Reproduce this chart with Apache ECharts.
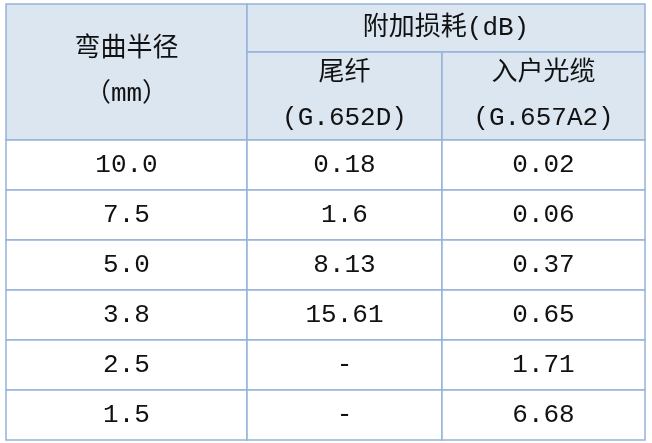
<!DOCTYPE html>
<html><head><meta charset="utf-8">
<script src="https://cdn.jsdelivr.net/npm/echarts@6/dist/echarts.min.js"></script>
<style>html,body{margin:0;padding:0;background:#fff}#c{width:652px;height:443px}</style>
</head><body><div id="c"></div>
<script>
const radius = ['10.0','7.5','5.0','3.8','2.5','1.5'];
const pigtail = ['0.18','1.6','8.13','15.61','-','-'];
const dropCable = ['0.02','0.06','0.37','0.65','1.71','6.68'];
const headTitle = '附加损耗(dB)';
const col0Head = ['弯曲半径','（mm）'];
const col1Head = ['尾纤','(G.652D)'];
const col2Head = ['入户光缆','(G.657A2)'];

// layout (px units in the axis space)
const colEdges = [0, 241, 436, 639];
const headTop = 0, headMid = 48, headBot = 136, rowH = 50;

const cells = [];
cells.push([colEdges[0], colEdges[1], headTop, headBot, col0Head.join('\n'), 1]);
cells.push([colEdges[1], colEdges[3], headTop, headMid, headTitle, 1]);
cells.push([colEdges[1], colEdges[2], headMid, headBot, col1Head.join('\n'), 1]);
cells.push([colEdges[2], colEdges[3], headMid, headBot, col2Head.join('\n'), 1]);
radius.forEach((r, i) => {
  const y0 = headBot + i * rowH, y1 = y0 + rowH;
  [r, pigtail[i], dropCable[i]].forEach((t, c) => cells.push([colEdges[c], colEdges[c+1], y0, y1, t, 0]));
});

const chart = echarts.init(document.getElementById('c'));
chart.setOption({
  animation: false,
  grid: {left: 6, right: 7, top: 4, bottom: 3},
  xAxis: {type: 'value', min: 0, max: 639, show: false},
  yAxis: {type: 'value', min: 0, max: 436, inverse: true, show: false},
  series: [{
    type: 'custom',
    data: cells,
    encode: {x: [0, 1], y: [2, 3]},
    renderItem: function (params, api) {
      const p0 = api.coord([api.value(0), api.value(2)]);
      const p1 = api.coord([api.value(1), api.value(3)]);
      const d = cells[params.dataIndex];
      const hdr = d[5] === 1;
      return {
        type: 'group',
        children: [{
          type: 'rect',
          shape: {x: p0[0], y: p0[1], width: p1[0] - p0[0], height: p1[1] - p0[1]},
          style: {fill: hdr ? '#dce6f1' : '#ffffff', stroke: '#95b3d7', lineWidth: 1.5}
        }, {
          type: 'text',
          style: {
            x: (p0[0] + p1[0]) / 2, y: (p0[1] + p1[1]) / 2,
            text: d[4], align: 'center', verticalAlign: 'middle',
            fontSize: 26, lineHeight: 45, fill: '#111',
            fontFamily: '"Liberation Mono", "Noto Sans CJK SC", monospace'
          }
        }]
      };
    }
  }]
});
</script></body></html>
